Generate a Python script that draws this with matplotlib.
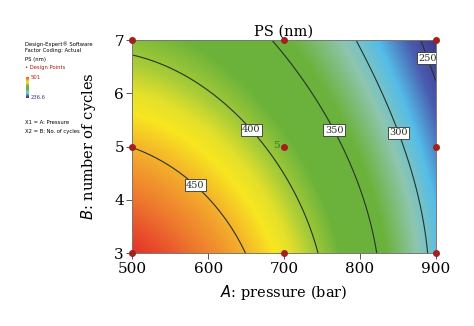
import matplotlib
matplotlib.use("Agg")
import matplotlib.pyplot as plt
import numpy as np
from matplotlib.colors import LinearSegmentedColormap, Normalize

# contour points: pressure (bar), cycles, PS (nm)
pressure = [500, 541, 607, 629, 648,
            500, 541, 585, 620, 646, 677, 695, 721, 745,
            685, 695, 730, 756, 773, 800, 822,
            794, 822, 846, 853, 875, 890,
            882, 900,
            500, 900]
cycles = [4.97, 4.69, 4.00, 3.56, 3.00,
          6.73, 6.54, 6.20, 5.82, 5.45, 5.01, 4.59, 3.87, 3.00,
          7.00, 6.76, 6.14, 5.57, 5.13, 4.19, 3.00,
          7.00, 6.32, 5.51, 5.10, 4.19, 3.00,
          7.00, 6.20,
          3.00, 7.00]
ps = [450] * 5 + [400] * 9 + [350] * 7 + [300] * 6 + [250] * 2 + [500, 236]

levels = [250, 300, 350, 400, 450]
label_at = [(893, 6.68), (848, 5.24), (768, 5.32), (660, 5.35), (584, 4.29)]

design_a = [500, 500, 500, 700, 700, 700, 900, 900, 900]
design_b = [3, 5, 7, 3, 5, 7, 3, 5, 7]
ps_min, ps_max = 236.6, 501

# colour stops of the Design-Expert scale (PS value, colour)
stop_ps = [236.6, 260, 285, 310, 340, 382, 405, 420, 432, 452, 475, 501]
stop_col = ["#3d3a8a", "#4a5cb0", "#55bde8", "#8ec6b0", "#6cb33e", "#6ab23a",
            "#a8cc38", "#e4e02a", "#f8e620", "#f4ae2c", "#ee7a2e", "#e5302a"]

# response surface: cubic fit in coded units
def terms(a, b):
    x1 = (np.asarray(a, float) - 700) / 200
    x2 = (np.asarray(b, float) - 5) / 2
    return np.stack([np.ones_like(x1), x1, x2, x1 * x2, x1**2, x2**2,
                     x1**2 * x2, x1 * x2**2, x1**3, x2**3], axis=-1)

coef = np.linalg.lstsq(terms(pressure, cycles), np.array(ps, float), rcond=None)[0]
ag, bg = np.meshgrid(np.linspace(500, 900, 300), np.linspace(3, 7, 300))
z = terms(ag, bg) @ coef

norm = Normalize(ps_min, ps_max)
cmap = LinearSegmentedColormap.from_list(
    "de", list(zip(norm(stop_ps).clip(0, 1), stop_col)))

serif = "DejaVu Serif"
fig = plt.figure(figsize=(4.74, 3.26), dpi=100)
ax = fig.add_axes([0.2791, 0.2230, 0.6401, 0.6543])
ax.imshow(z, extent=(500, 900, 3, 7), origin="lower", aspect="auto",
          cmap=cmap, norm=norm, interpolation="bilinear")
cs = ax.contour(ag, bg, z, levels=levels, colors="#263326", linewidths=0.8)
lbls = ax.clabel(cs, fmt="%d", inline=False, manual=label_at, fontsize=7)
for t in lbls:
    t.set_rotation(0)
    t.set_family(serif)
    t.set_bbox(dict(boxstyle="square,pad=0.15", fc="white", ec="#333333", lw=0.6))

ax.scatter(design_a, design_b, s=16, marker="o", color="#a3201c",
           clip_on=False, zorder=5)
ax.text(design_a[4] - 6, design_b[4] + 0.03, "5", color="#2e7a2e", fontsize=7.5,
        ha="right", va="center", family=serif)

ax.set_xlim(500, 900)
ax.set_ylim(3, 7)
ax.set_xticks([500, 600, 700, 800, 900])
ax.set_yticks([3, 4, 5, 6, 7])
ax.tick_params(direction="out", length=4, width=0.7, color="#555555",
               labelsize=11, pad=2)
for lab in ax.get_xticklabels() + ax.get_yticklabels():
    lab.set_family(serif)
for s in ax.spines.values():
    s.set_color("#777777")
    s.set_linewidth(0.7)

ax.set_title("PS (nm)", family=serif, fontsize=10.5, pad=3)
ax.set_xlabel("$\\it{A}$: pressure (bar)", family=serif, fontsize=10.5, labelpad=5)
ax.set_ylabel("$\\it{B}$: number of cycles", family=serif, fontsize=10.5, labelpad=12)

# Design-Expert side notes
small = dict(fontsize=3.8, transform=fig.transFigure, va="center", ha="left")
fig.text(25 / 474, 1 - 44 / 326, "Design-Expert® Software", **small)
fig.text(25 / 474, 1 - 50.5 / 326, "Factor Coding: Actual", **small)
fig.text(25 / 474, 1 - 59 / 326, "PS (nm)", **small)
fig.text(25 / 474, 1 - 68 / 326, "• Design Points", color="#a3201c", **small)
cax = fig.add_axes([26 / 474, 1 - 98.5 / 326, 2.5 / 474, 21.5 / 326])
cax.imshow(np.linspace(1, 0, 50)[:, None], cmap=cmap, aspect="auto")
cax.axis("off")
fig.text(31 / 474, 1 - 78 / 326, f"{ps_max:g}", color="#a3201c", **small)
fig.text(31 / 474, 1 - 97.5 / 326, f"{ps_min:g}", color="#3d3a8a", **small)
fig.text(25 / 474, 1 - 123 / 326, "X1 = A: Pressure", **small)
fig.text(25 / 474, 1 - 131 / 326, "X2 = B: No. of cycles", **small)

fig.savefig("out.png", dpi=100)
